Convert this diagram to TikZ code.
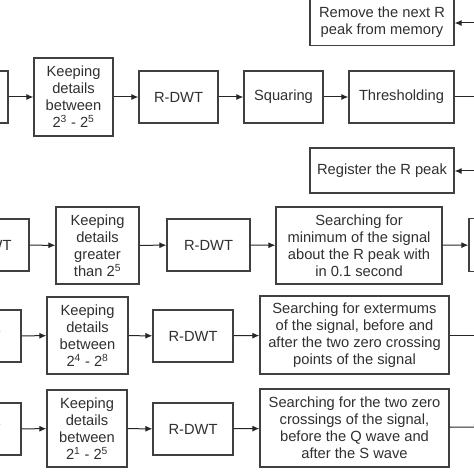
\documentclass[tikz,border=0pt]{standalone}
\usepackage{fontspec}
\setmainfont{Liberation Sans}
\usetikzlibrary{arrows.meta}
\definecolor{boxline}{HTML}{404040}
\definecolor{txt}{HTML}{303030}
\tikzset{
  blk/.style={draw=boxline, line width=1.3bp, fill=white, inner sep=1bp, align=center,
    text=txt, font=\fontsize{14.7bp}{17bp}\selectfont},
  conn/.style={draw=black!85, line width=1bp, -{Latex[length=7bp,width=6bp]}},
}
\newcommand{\bx}[6]{\node[blk, minimum width=#4bp, minimum height=#5bp] (#1) at (#2,#3) {#6};}
\begin{document}
\begin{tikzpicture}[x=1bp,y=-1bp]
\useasboundingbox (0,0) rectangle (474,474);
% row 0
\bx{remove}{382}{22}{144}{47}{Remove the next R\\peak from memory}
\bx{register}{382}{170.5}{144}{45}{Register the R peak}
\coordinate (remin) at (490,23);
\coordinate (regin) at (490,171);
% row 1
\bx{l1}{-32}{97}{80}{52}{}
\bx{k1}{73.5}{97}{79}{78}{Keeping\\details\\between\\2\textsuperscript{3} - 2\textsuperscript{5}}
\bx{r1}{178.5}{97}{79}{52}{R-DWT}
\bx{sq}{283.5}{97}{79}{52}{Squaring}
\bx{th}{401.5}{97}{105}{52}{Thresholding}
\coordinate (out1) at (481,97);
% row 2
\bx{l2}{-13}{245}{84}{52}{R-DWT}
\bx{k2}{97.5}{245.5}{83}{77}{Keeping\\details\\greater\\than 2\textsuperscript{5}}
\bx{r2}{208.5}{245}{83}{52}{R-DWT}
\bx{s2}{359}{245.5}{166}{77}{Searching for\\minimum of the signal\\about the R peak with\\in 0.1 second}
\bx{rr2}{510}{245}{82}{53}{}
% row 3
\bx{l3}{-19}{336}{80}{52}{\hbox{R-DWT\kern10bp}}
\bx{k3}{87.5}{335.5}{81}{77}{Keeping\\details\\between\\2\textsuperscript{4} - 2\textsuperscript{8}}
\bx{r3}{193}{336}{80}{52}{R-DWT}
\bx{s3}{354.5}{335}{189}{78}{Searching for extermums\\of the signal, before and\\after the two zero crossing\\points of the signal}
\coordinate (out3) at (481,335);
% row 4
\bx{l4}{-19}{429}{80}{52}{\hbox{R-DWT\kern10bp}}
\bx{k4}{87}{428.5}{80}{77}{Keeping\\details\\between\\2\textsuperscript{1} - 2\textsuperscript{5}}
\bx{r4}{193}{429}{80}{52}{R-DWT}
\bx{s4}{354.5}{428}{189}{78}{Searching for the two zero\\crossings of the signal,\\before the Q wave and\\after the S wave}
\coordinate (out4) at (481,427);
% connectors
\draw[conn] (remin) -- (remove.east |- remin);
\draw[conn] (regin) -- (register.east |- regin);
\draw[conn] (l1) -- (k1);
\draw[conn] (k1) -- (r1);
\draw[conn] (r1) -- (sq);
\draw[conn] (sq) -- (th);
\draw[conn] (th) -- (out1);
\draw[conn] (l2) -- (k2);
\draw[conn] (k2) -- (r2);
\draw[conn] (r2) -- (s2);
\draw[conn] (s2) -- (rr2);
\draw[conn] (l3) -- (k3);
\draw[conn] (k3) -- (r3);
\draw[conn] (r3) -- (s3);
\draw[conn] (s3) -- (out3);
\draw[conn] (l4) -- (k4);
\draw[conn] (k4) -- (r4);
\draw[conn] (r4) -- (s4);
\draw[conn] (s4) -- (out4);
\end{tikzpicture}
\end{document}
